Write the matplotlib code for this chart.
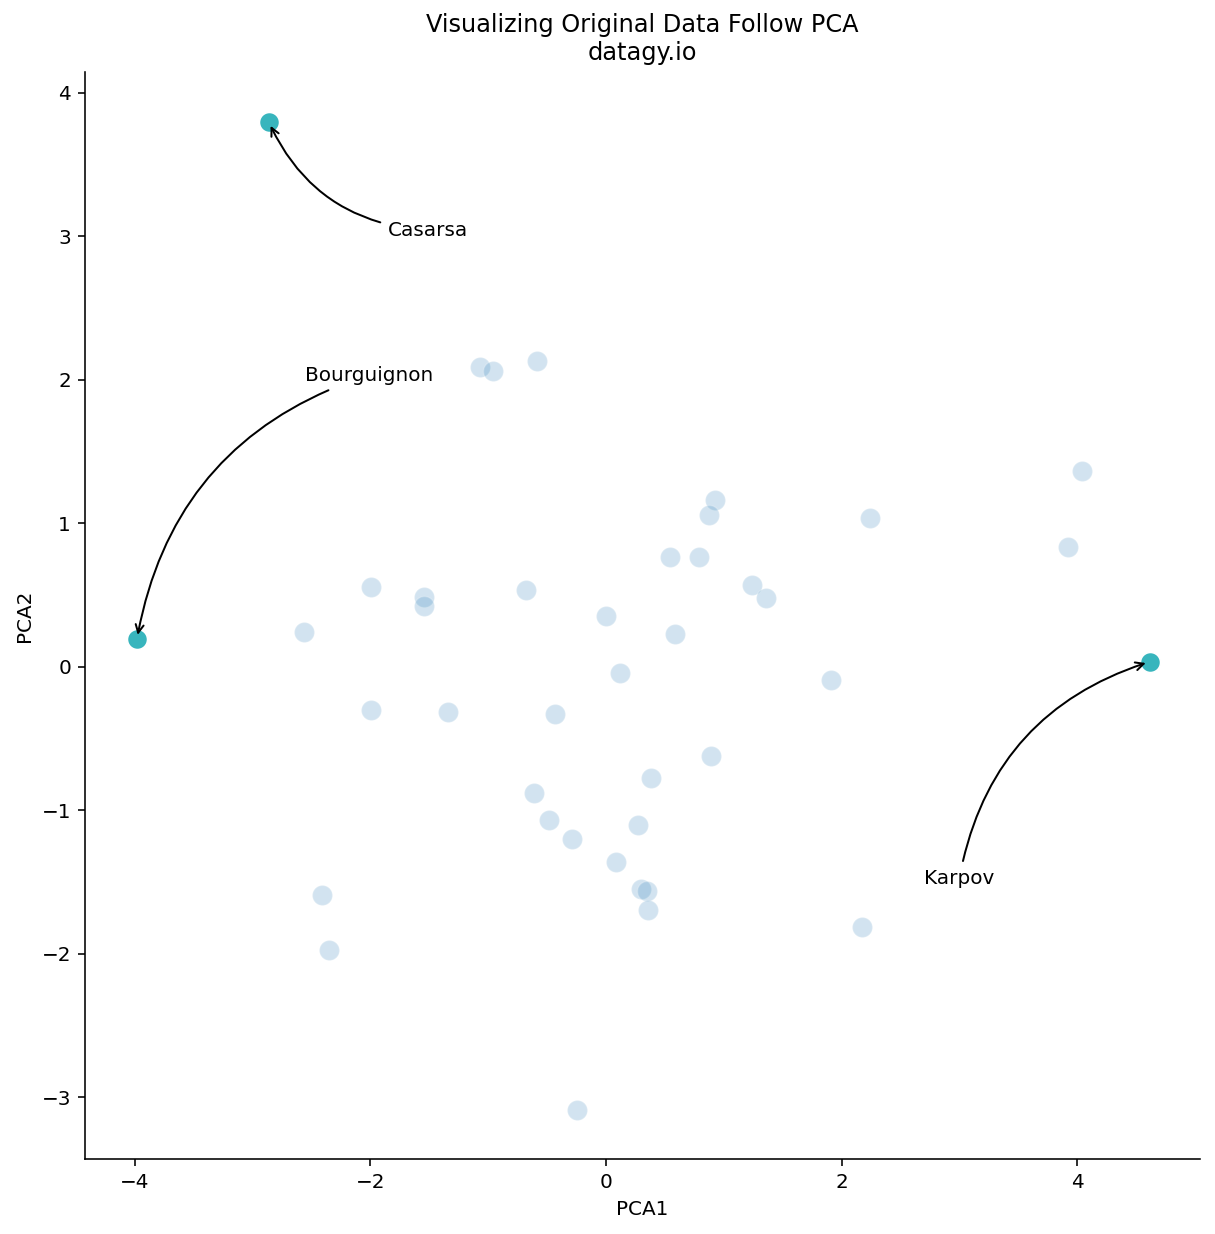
import matplotlib
matplotlib.use("Agg")
import matplotlib.pyplot as plt
import numpy as np

# Background points (PCA1, PCA2)
pca1 = [-1.068, -0.958, -0.585, 4.042, 0.924, 0.873, 2.237, 0.542, 0.788, 3.924,
        -1.992, -1.542, -1.542, -0.678, 1.237, 1.356, -2.559, 0.000, 0.585, 0.119,
        1.907, -1.992, -1.339, -0.432, 0.890, 0.381, -0.610, -0.483, 0.271, -0.288,
        0.085, -2.407, 0.297, 0.347, 0.356, -2.347, 2.169, -0.246]
pca2 = [2.089, 2.058, 2.131, 1.363, 1.161, 1.056, 1.034, 0.765, 0.765, 0.837,
        0.556, 0.489, 0.422, 0.536, 0.568, 0.478, 0.244, 0.354, 0.228, -0.044,
        -0.093, -0.300, -0.315, -0.329, -0.622, -0.775, -0.879, -1.067, -1.102, -1.200,
        -1.360, -1.589, -1.546, -1.560, -1.694, -1.974, -1.814, -3.087]

# Highlighted points
names = ["Casarsa", "Bourguignon", "Karpov"]
hi_x = [-2.860, -3.979, 4.612]
hi_y = [3.795, 0.195, 0.035]
text_x = [-1.848, -2.557, 2.70]
text_y = [3.004, 1.994, -1.513]
rads = [-0.3, 0.3, -0.3]

W, H, DPI = 1215, 1234, 144
fig = plt.figure(figsize=(W / DPI, H / DPI), dpi=DPI)
ax = fig.add_axes([85 / W, 1 - 1159 / H, (1200 - 85) / W, (1159 - 72) / H])

ax.scatter(pca1, pca2, s=100, color="#1f77b4", alpha=0.2, edgecolor="white", linewidth=0.75, zorder=2)
ax.scatter(hi_x, hi_y, s=100, color="#38b5bd", edgecolor="white", linewidth=0.75, zorder=3)

for n, x, y, tx, ty, r in zip(names, hi_x, hi_y, text_x, text_y, rads):
    ax.annotate(n, xy=(x, y), xytext=(tx, ty),
                arrowprops=dict(arrowstyle="->", color="black", lw=1,
                                connectionstyle=f"arc3,rad={r}"))

ax.set_xlim(-4.42, 5.04)
ax.set_ylim(-3.43, 4.145)
ax.set_xticks([-4, -2, 0, 2, 4])
ax.set_yticks([-3, -2, -1, 0, 1, 2, 3, 4])
ax.spines["top"].set_visible(False)
ax.spines["right"].set_visible(False)
ax.set_xlabel("PCA1")
ax.set_ylabel("PCA2")
ax.set_title("Visualizing Original Data Follow PCA\ndatagy.io")

fig.savefig("out.png", dpi=DPI)
